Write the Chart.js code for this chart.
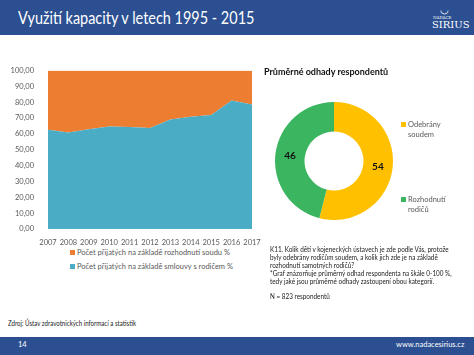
<!DOCTYPE html>
<html><head><meta charset="utf-8">
<script src="https://cdn.jsdelivr.net/npm/chart.js@4"></script>
<style>
html,body{margin:0;padding:0;background:#fff;}
body{width:474px;height:355px;position:relative;overflow:hidden;font-family:Lato,"Open Sans",sans-serif;}
.abs{position:absolute;white-space:nowrap;}
#hdr{left:0;top:0;width:474px;height:35px;background:#2b4f91;}
#ftr{left:0;top:337px;width:474px;height:18px;background:#2b4f91;}
#title{left:18px;top:7px;color:#fff;font-size:17px;transform:scaleX(0.85);transform-origin:0 0;}
.lg{font-size:7.5px;color:#595959;}
.sq{display:inline-block;width:5px;height:5px;margin-right:2px;vertical-align:0px;}
.note{font-size:7.4px;color:#222;line-height:8px;transform:scaleX(0.86);transform-origin:0 0;}
</style></head><body>
<div id="hdr" class="abs"></div>
<div id="title" class="abs">Využití kapacity v letech 1995 - 2015</div>
<div class="abs" style="left:440px;top:4px;color:#fff;font-size:10px;line-height:10px;">◡</div>
<div class="abs" style="left:433px;top:15px;color:#fff;font-size:4px;font-family:'DejaVu Serif',serif;">NADACE</div>
<div class="abs" style="left:432px;top:19px;color:#fff;font-size:10px;font-family:'DejaVu Serif',serif;">SIRIUS</div>

<div class="abs" style="left:0;top:60px;width:270px;height:188px;"><canvas id="area"></canvas></div>
<div class="abs lg" style="left:70px;top:248px;"><span class="sq" style="background:#ed7d31"></span>Počet přijatých na základě rozhodnutí soudu %</div>
<div class="abs lg" style="left:70px;top:262px;"><span class="sq" style="background:#4bacc6"></span>Počet přijatých na základě smlouvy s rodičem %</div>
<div class="abs" style="left:8px;top:319px;font-size:6.8px;color:#222;transform:scaleX(0.9);transform-origin:0 0;">Zdroj: Ústav zdravotnických informací a statistik</div>

<div class="abs" style="left:264px;top:66px;font-size:9px;font-weight:bold;color:#111;">Průměrné odhady respondentů</div>
<div class="abs" style="left:275px;top:102px;width:118px;height:118px;"><canvas id="donut"></canvas></div>
<div class="abs lg" style="left:401px;top:120px;line-height:10px;"><span class="sq" style="background:#ffc000"></span>Odebrány<br><span style="margin-left:7px">soudem</span></div>
<div class="abs lg" style="left:401px;top:195px;line-height:10px;"><span class="sq" style="background:#3cb561"></span>Rozhodnutí<br><span style="margin-left:7px">rodičů</span></div>

<div class="abs note" style="left:270px;top:246px;">K11. Kolik dětí v kojeneckých ústavech je zde podle Vás, protože<br>byly odebrány rodičům soudem, a kolik jich zde je na základě<br>rozhodnutí samotných rodičů?<br>*Graf znázorňuje průměrný odhad respondenta na škále 0-100 %,<br>tedy jaké jsou průměrné odhady zastoupení obou kategorií.</div>
<div class="abs note" style="left:270px;top:293px;">N = 823 respondentů</div>

<div id="ftr" class="abs"></div>
<div class="abs" style="left:18px;top:340px;color:#fff;font-size:7.5px;">14</div>
<div class="abs" style="left:396px;top:340px;color:#fff;font-size:7.5px;">www.nadacesirius.cz</div>

<script>
const years = ['2007','2008','2009','2010','2011','2012','2013','2014','2015','2016','2017'];
const smlouva = [62.6, 60.9, 63.0, 64.7, 64.3, 63.7, 69.1, 70.8, 72.0, 81.1, 78.6];
const soud = [37.4, 39.1, 37.0, 35.3, 35.7, 36.3, 30.9, 29.2, 28.0, 18.9, 21.4];
const donutLabels = ['Odebrány soudem', 'Rozhodnutí rodičů'];
const donutValues = [54, 46];

const tickFont = {family:'Lato, "Open Sans", sans-serif', size:7.5};
new Chart(document.getElementById('area'), {
  type:'line',
  data:{labels:years, datasets:[
    {label:'Počet přijatých na základě smlouvy s rodičem %', data:smlouva, backgroundColor:'#4bacc6', borderWidth:0, pointRadius:0, fill:'origin', tension:0},
    {label:'Počet přijatých na základě rozhodnutí soudu %', data:soud, backgroundColor:'#ed7d31', borderWidth:0, pointRadius:0, fill:'-1', tension:0}
  ]},
  options:{
    responsive:true, maintainAspectRatio:false, animation:false,
    layout:{padding:{top:6, right:18, bottom:0, left:0}},
    plugins:{legend:{display:false}, tooltip:{enabled:false}},
    scales:{
      x:{stacked:true, offset:false, grid:{display:false}, border:{display:false},
         ticks:{color:'#595959', font:tickFont, maxRotation:0, autoSkip:false, padding:1}},
      y:{stacked:true, min:0, max:100, grid:{display:false}, border:{display:false},
         afterFit:(a)=>{a.width=48;},
         ticks:{stepSize:10, color:'#595959', font:tickFont, padding:6,
           callback:(v)=>v.toFixed(2).replace('.',',')}}
    }
  }
});

new Chart(document.getElementById('donut'), {
  type:'doughnut',
  data:{labels:donutLabels, datasets:[{data:donutValues, backgroundColor:['#ffc000','#3cb561'], borderWidth:0}]},
  options:{
    responsive:true, maintainAspectRatio:false, animation:false, cutout:'50%',
    plugins:{legend:{display:false}, tooltip:{enabled:false}}
  },
  plugins:[{id:'lbl', afterDatasetsDraw(chart){
    const ctx=chart.ctx; const meta=chart.getDatasetMeta(0);
    ctx.save(); ctx.font='bold 10px Lato, "Open Sans", sans-serif'; ctx.fillStyle='#111';
    ctx.textAlign='center'; ctx.textBaseline='middle';
    meta.data.forEach((arc,i)=>{const p=arc.tooltipPosition(); ctx.fillText(String(chart.data.datasets[0].data[i]), p.x, p.y);});
    ctx.restore();
  }}]
});
</script>
</body></html>
